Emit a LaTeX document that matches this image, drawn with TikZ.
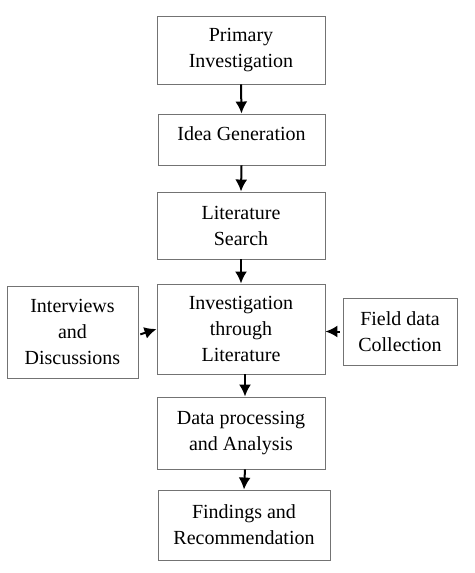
\documentclass[tikz,border=0pt]{standalone}
\usepackage{fontspec}
\setmainfont{Liberation Serif}
\usetikzlibrary{arrows.meta}
\tikzset{
  stage/.style={draw=black!55,line width=0.9pt,align=center,inner sep=2pt,
    font=\fontsize{20}{26}\selectfont},
  flow/.style={-{Latex[length=12pt,width=12pt]},line width=2pt,color=black}
}
\begin{document}
\begin{tikzpicture}[x=1pt,y=-1pt,line cap=butt,line join=miter]
\useasboundingbox (0,0) rectangle (474,573);
\node[stage,minimum width=168pt,minimum height=68pt] (prim) at (241,50) {Primary\\Investigation};
\node[stage,minimum width=167pt,minimum height=51pt,text depth=12pt] (idea) at (241.5,139.5) {Idea Generation};
\node[stage,minimum width=168pt,minimum height=67pt] (lit) at (241,225.5) {Literature\\Search};
\node[stage,minimum width=168pt,minimum height=90pt] (inv) at (241,329) {Investigation\\through\\Literature};
\node[stage,minimum width=131pt,minimum height=92pt] (intv) at (72.5,332) {Interviews\\and\\Discussions};
\node[stage,minimum width=114pt,minimum height=67pt] (field) at (400,331.5) {Field data\\Collection};
\node[stage,minimum width=168pt,minimum height=72pt] (data) at (241,433) {Data processing\\and Analysis};
\node[stage,minimum width=172pt,minimum height=70pt] (find) at (244,525) {Findings and\\Recommendation};
\draw[flow] (prim.south) -- (idea.north);
\draw[flow] (idea.south) -- (lit.north);
\draw[flow] (lit.south) -- (inv.north);
\draw[flow] ([xshift=4pt]inv.south) -- ([xshift=4pt]data.north);
\draw[flow] ([xshift=4pt]data.south) -- (find.north);
\draw[flow,shorten <=2pt] ([yshift=-3pt]intv.east) -- (inv.west);
\draw[flow,shorten <=3pt] (field.west) -- (inv.east |- field.west);
\end{tikzpicture}
\end{document}
